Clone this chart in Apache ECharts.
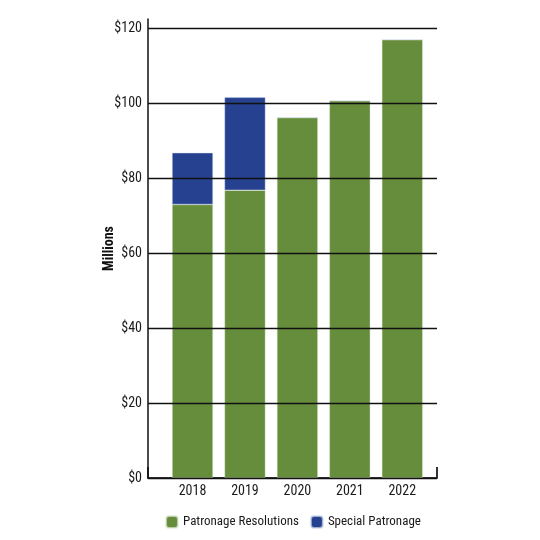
<!DOCTYPE html>
<html><head><meta charset="utf-8">
<script src="https://cdn.jsdelivr.net/npm/echarts@6/dist/echarts.min.js"></script>
<style>html,body{margin:0;padding:0;background:#fff}#c{width:540px;height:540px}</style>
</head><body><div id="c"></div>
<script>
const years = ['2018', '2019', '2020', '2021', '2022'];
const patronageResolutions = [73, 76.8, 96.2, 100.7, 117.0];
const specialPatronage = [13.8, 24.8, 0, 0, 0];
const yTicks = [0, 20, 40, 60, 80, 100, 120];
const yMax = 122.5;

const FONT = '"Roboto Condensed", "DejaVu Sans Condensed", sans-serif';
const chart = echarts.init(document.getElementById('c'));
chart.setOption({
  animation: false,
  textStyle: { fontFamily: FONT },
  grid: [
    { left: 166.3, right: 111.5, top: 19, bottom: 62 },
    { left: 148, right: 103, top: 19, bottom: 62 }
  ],
  legend: {
    top: 510, left: 160,
    itemWidth: 12, itemHeight: 12, itemGap: 11,
    textStyle: { fontFamily: FONT, fontSize: 13, color: '#1a1a1a' },
    data: ['Patronage Resolutions', 'Special Patronage']
  },
  xAxis: [
    { type: 'category', gridIndex: 0, data: years,
      axisLine: { show: false }, axisTick: { show: false },
      axisLabel: { fontFamily: FONT, fontSize: 14, color: '#1a1a1a', margin: 6 } },
    { type: 'category', gridIndex: 1, data: years,
      axisLine: { lineStyle: { color: '#333', width: 2 } },
      axisTick: { show: true, inside: true, length: 11, interval: (i) => i === 0, lineStyle: { color: '#333', width: 2 } },
      axisLabel: { show: false } }
  ],
  yAxis: [
    { type: 'value', gridIndex: 0, min: 0, max: yMax, interval: 20, show: false, splitLine: { show: false } },
    { type: 'value', gridIndex: 1, min: 0, max: yMax, interval: 20, z: 10,
      name: 'Millions', nameLocation: 'middle', nameGap: 32, nameMoveOverlap: false,
      nameTextStyle: { fontFamily: FONT, fontSize: 14, fontWeight: 'bold', color: '#111' },
      axisLine: { show: true, lineStyle: { color: '#111', width: 1.5 } },
      axisTick: { show: false },
      axisLabel: { fontFamily: FONT, fontSize: 14, color: '#1a1a1a', margin: 6, showMaxLabel: false,
        formatter: (v) => yTicks.includes(v) ? '$' + v : '' },
      splitLine: { show: true, showMaxLine: false, lineStyle: { color: '#111', width: 1.3 } } }
  ],
  series: [
    { name: 'Patronage Resolutions', type: 'bar', stack: 'a', xAxisIndex: 0, yAxisIndex: 0,
      barWidth: 41, data: patronageResolutions,
      itemStyle: { color: '#668d3c', borderColor: 'rgba(225,235,215,0.7)', borderWidth: 0.6 } },
    { name: 'Special Patronage', type: 'bar', stack: 'a', xAxisIndex: 0, yAxisIndex: 0,
      barWidth: 41, data: specialPatronage,
      itemStyle: { color: '#26418f', borderColor: 'rgba(210,218,236,0.7)', borderWidth: 0.6 } }
  ]
});
</script></body></html>
